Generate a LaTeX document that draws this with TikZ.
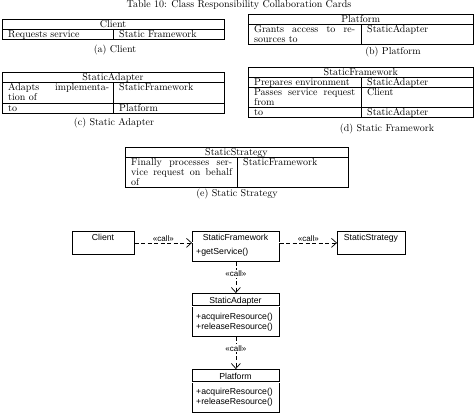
\documentclass[tikz,border=0pt]{standalone}
\usepackage{fontspec}
\newfontfamily\umlfont{Liberation Sans}
\usetikzlibrary{positioning,arrows.meta}
\newcommand{\cardfont}{\fontsize{10}{10}\selectfont}
\newcommand{\umlsize}{\umlfont\fontsize{8.7}{10}\selectfont}
\tikzset{
    card/.style={draw, line width=0.7pt},
    cardhead/.style={font=\cardfont, inner sep=0pt, anchor=base},
    cardcell/.style={font=\cardfont, inner sep=0pt, anchor=base west,
                     text width=101pt, align=justify},
    cardcap/.style={font=\cardfont, inner sep=0pt},
    classbox/.style={draw, line width=0.7pt, inner sep=0pt, anchor=north west},
    classname/.style={font=\umlsize, inner sep=0pt, anchor=base},
    method/.style={font=\umlsize, inner sep=0pt, anchor=base west},
    namesep/.style={double, double distance=1pt, line width=0.45pt},
    callarrow/.style={line width=0.7pt, dash pattern=on 4pt off 2.5pt,
                      -{Straight Barb[length=5pt,width=9pt]}},
    stereo/.style={font=\umlfont\fontsize{8}{9}\selectfont, inner sep=1pt}
}
\begin{document}
\begin{tikzpicture}[x=1pt, y=-1pt]
  \useasboundingbox (0,0) rectangle (474,413);
  \node[cardhead] (title) at (239,7.6) {Table 10: Class Responsibility Collaboration Cards};

  % Card (a)
  \draw[card] (2,19) rectangle (224,39) (2,29) -- (224,29) (113,29) -- (113,39);
  \node[cardhead] (cl-head) at (113,27.3) {Client};
  \node[cardcell] (cl-resp) at (8,37.3) {Requests service};
  \node[cardcell] (cl-coll) at (119,37.3) {Static Framework};
  \node[cardcap] (cl-cap) at (115,50) {(a) Client};

  % Card (b)
  \draw[card] (248,14) rectangle (473.5,44) (248,24) -- (473.5,24) (361,24) -- (361,44);
  \node[cardhead] (pf-head) at (360.75,22.3) {Platform};
  \node[cardcell] (pf-resp) at (254,32.3) {Grants access to re-\linebreak sources to};
  \node[cardcell] (pf-coll) at (367,32.3) {StaticAdapter};
  \node[cardcap] (pf-cap) at (393,52) {(b) Platform};

  % Card (c)
  \draw[card] (2,72) rectangle (224,113) (2,82) -- (224,82) (2,103) -- (224,103)
    (113,82) -- (113,113);
  \node[cardhead] (sa-head) at (113,80.3) {StaticAdapter};
  \node[cardcell] (sa-resp1) at (8,90.3) {Adapts implementa-\linebreak tion of};
  \node[cardcell] (sa-coll1) at (119,90.3) {StaticFramework};
  \node[cardcell] (sa-resp2) at (8,111.3) {to};
  \node[cardcell] (sa-coll2) at (119,111.3) {Platform};
  \node[cardcap] (sa-cap) at (114,123) {(c) Static Adapter};

  % Card (d)
  \draw[card] (248,67) rectangle (473.5,117) (248,77) -- (473.5,77) (248,87) -- (473.5,87)
    (248,107) -- (473.5,107) (361,77) -- (361,117);
  \node[cardhead] (sf-head) at (360.75,75.3) {StaticFramework};
  \node[cardcell] (sf-resp1) at (254,85.3) {Prepares environment};
  \node[cardcell] (sf-coll1) at (367,85.3) {StaticAdapter};
  \node[cardcell] (sf-resp2) at (254,95.3) {Passes service request\linebreak from};
  \node[cardcell] (sf-coll2) at (367,95.3) {Client};
  \node[cardcell] (sf-resp3) at (254,115.3) {to};
  \node[cardcell] (sf-coll3) at (367,115.3) {StaticAdapter};
  \node[cardcap] (sf-cap) at (387,129) {(d) Static Framework};

  % Card (e)
  \draw[card] (125,147) rectangle (348,187) (125,157) -- (348,157) (237,157) -- (237,187);
  \node[cardhead] (ss-head) at (236.5,155.3) {StaticStrategy};
  \node[cardcell] (ss-resp) at (131,165.3) {Finally processes ser-\linebreak vice request on behalf\linebreak of};
  \node[cardcell] (ss-coll) at (243,165.3) {StaticFramework};
  \node[cardcap] (ss-cap) at (237,194) {(e) Static Strategy};

  % Classes
  \node[classbox, minimum width=62pt, minimum height=23pt] (client) at (72,231) {};
  \node[classname] (client-name) at (103,240.5) {Client};

  \node[classbox, minimum width=87pt, minimum height=30pt] (sf) at (192,231) {};
  \node[classname] (sf-name) at (235.5,240.5) {StaticFramework};
  \draw[namesep] ([yshift=-11.5pt]sf.north west) -- ([yshift=-11.5pt]sf.north east);
  \node[method] (sf-op) at (196,254.5) {+getService()};

  \node[classbox, minimum width=68pt, minimum height=23pt] (ss) at (337,231) {};
  \node[classname] (ss-name) at (371,240.5) {StaticStrategy};

  \node[classbox, minimum width=87pt, minimum height=43pt] (sa) at (192,293) {};
  \node[classname] (sa-name) at (235.5,303.5) {StaticAdapter};
  \draw[namesep] ([yshift=-13pt]sa.north west) -- ([yshift=-13pt]sa.north east);
  \node[method] (sa-op1) at (196,319) {+acquireResource()};
  \node[method] (sa-op2) at (196,329) {+releaseResource()};

  \node[classbox, minimum width=87pt, minimum height=43pt] (pf) at (192,369) {};
  \node[classname] (pf-name) at (235.5,379.5) {Platform};
  \draw[namesep] ([yshift=-13pt]pf.north west) -- ([yshift=-13pt]pf.north east);
  \node[method] (pf-op1) at (196,394) {+acquireResource()};
  \node[method] (pf-op2) at (196,404.5) {+releaseResource()};

  % Calls
  \draw[callarrow] (client) -- (client -| sf.west) node[midway, above, stereo] (call1) {«call»};
  \draw[callarrow] (sf.east |- ss) -- (ss) node[midway, above, stereo] (call2) {«call»};
  \draw[callarrow] (sf) -- (sa) node[pos=0.38, fill=white, stereo] (call3) {«call»};
  \draw[callarrow] (sa) -- (pf) node[pos=0.36, fill=white, stereo] (call4) {«call»};
\end{tikzpicture}
\end{document}
